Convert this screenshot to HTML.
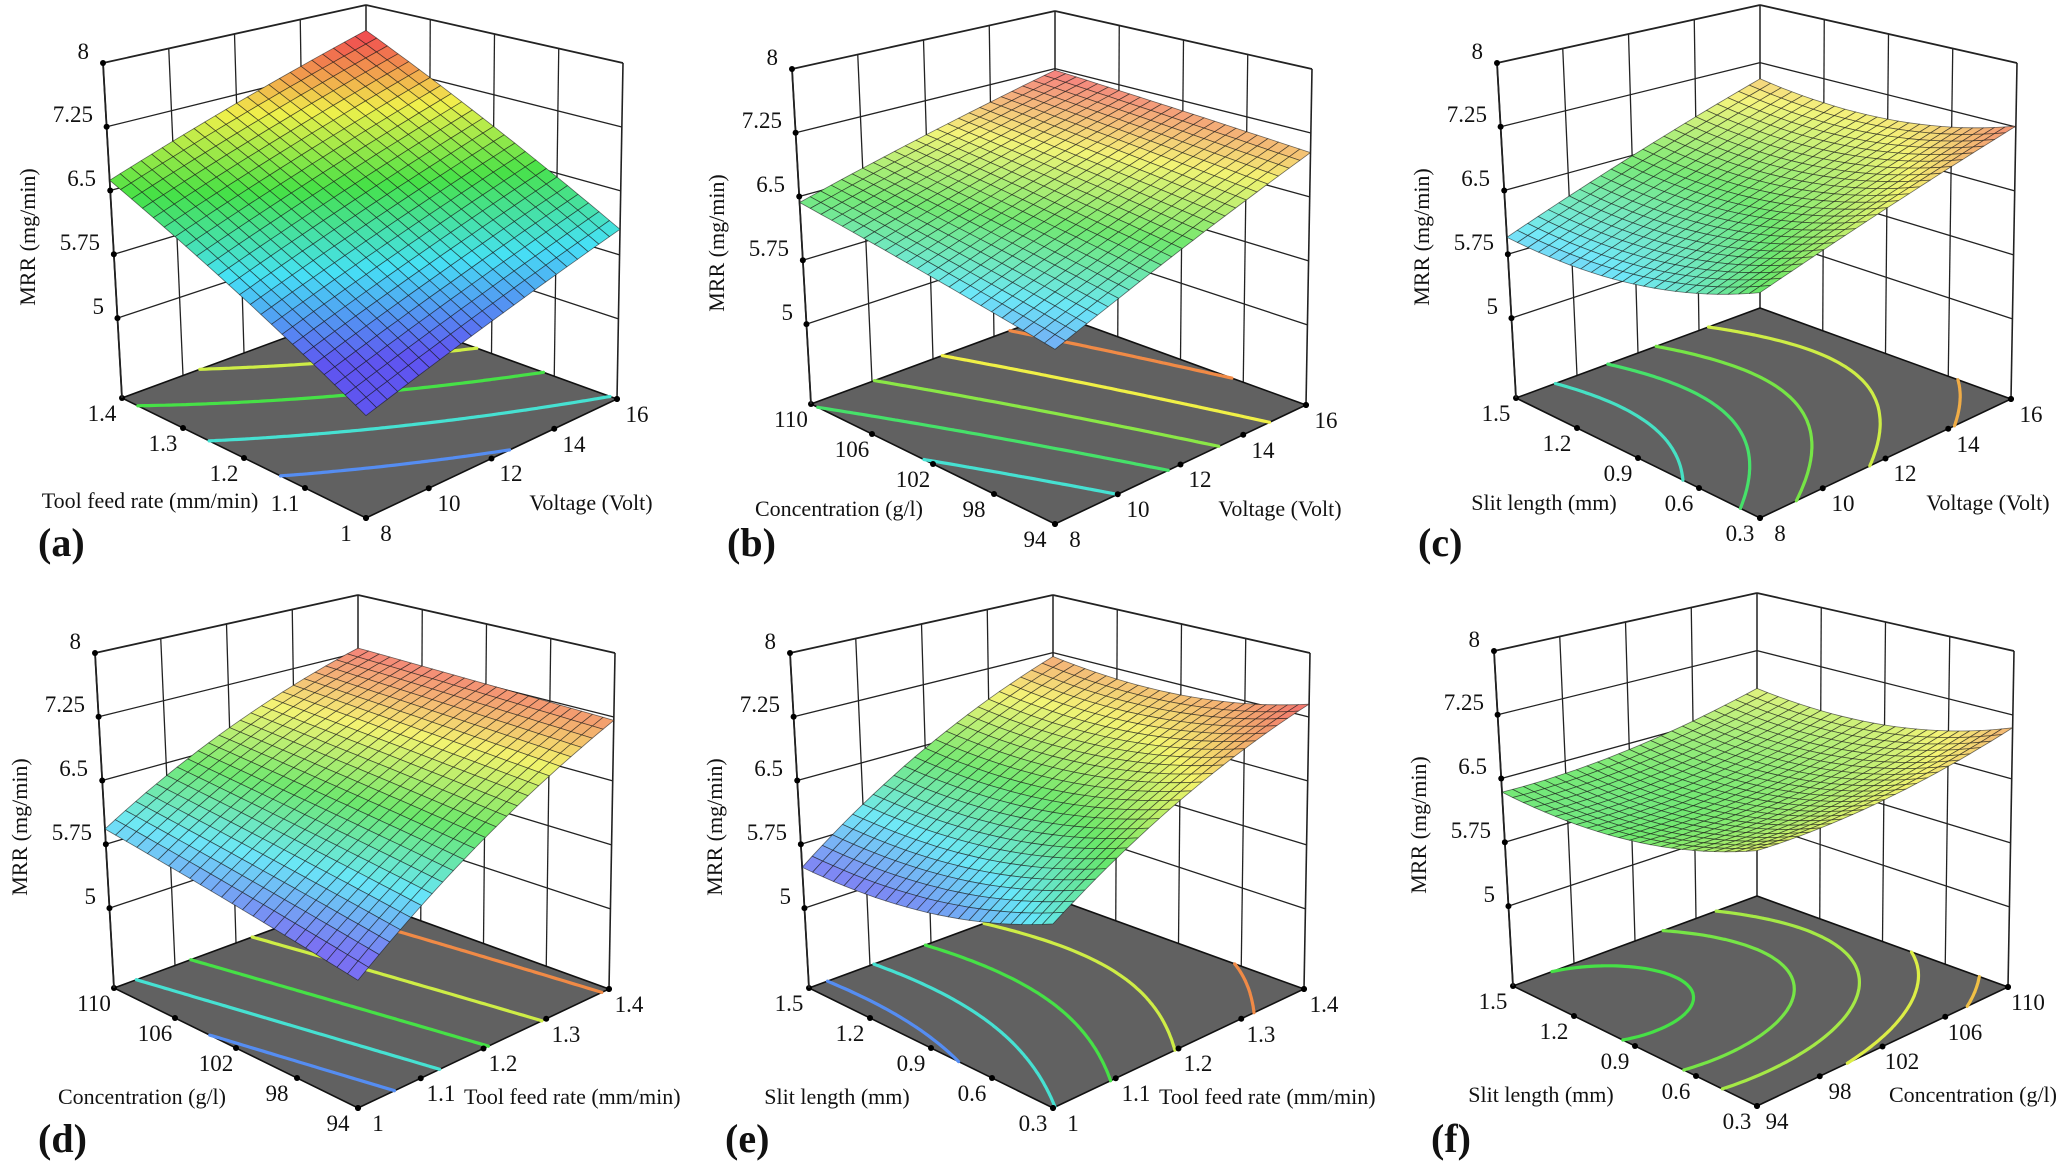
<!DOCTYPE html>
<html><head><meta charset="utf-8"><style>
html,body{margin:0;padding:0;background:#fff}
svg{display:block}
svg text{font-family:"Liberation Serif","Times New Roman","DejaVu Serif",serif !important;fill:#111}
.tk{font-size:23px}
.tl{font-size:22px}
.pl{font-size:40px;font-weight:bold}
</style></head><body>
<svg id="s" xmlns="http://www.w3.org/2000/svg" width="2065" height="1172" viewBox="0 0 2065 1172" font-family="Liberation Serif, Times New Roman, DejaVu Serif, serif">
<rect width="2065" height="1172" fill="#fff"/>
<g id="p0" transform="translate(0,0)"><g class="gfx"></g>
<g class="tk" text-anchor="end"><text x="89" y="59">8</text><text x="93" y="122">7.25</text><text x="96" y="186">6.5</text><text x="100" y="250">5.75</text><text x="104" y="314">5</text></g>
<g class="tk" text-anchor="middle"><text x="102" y="421">1.4</text><text x="163" y="451">1.3</text><text x="224" y="481">1.2</text><text x="285" y="511">1.1</text><text x="346" y="541">1</text>
<text x="386" y="541">8</text><text x="449" y="511">10</text><text x="511" y="481">12</text><text x="574" y="452">14</text><text x="637" y="422">16</text></g>
<text class="tl" x="150" y="508" text-anchor="middle">Tool feed rate (mm/min)</text>
<text class="tl" x="591" y="510" text-anchor="middle">Voltage (Volt)</text>
<text class="tl" transform="translate(35,237) rotate(-90)" text-anchor="middle">MRR (mg/min)</text>
<text class="pl" x="38" y="556">(a)</text></g>

<g id="p1" transform="translate(689,6)"><g class="gfx"></g>
<g class="tk" text-anchor="end"><text x="89" y="59">8</text><text x="93" y="122">7.25</text><text x="96" y="186">6.5</text><text x="100" y="250">5.75</text><text x="104" y="314">5</text></g>
<g class="tk" text-anchor="middle"><text x="102" y="421">110</text><text x="163" y="451">106</text><text x="224" y="481">102</text><text x="285" y="511">98</text><text x="346" y="541">94</text>
<text x="386" y="541">8</text><text x="449" y="511">10</text><text x="511" y="481">12</text><text x="574" y="452">14</text><text x="637" y="422">16</text></g>
<text class="tl" x="150" y="510" text-anchor="middle">Concentration (g/l)</text>
<text class="tl" x="591" y="510" text-anchor="middle">Voltage (Volt)</text>
<text class="tl" transform="translate(35,237) rotate(-90)" text-anchor="middle">MRR (mg/min)</text>
<text class="pl" x="38" y="550">(b)</text></g>

<g id="p2" transform="translate(1394,0)"><g class="gfx"></g>
<g class="tk" text-anchor="end"><text x="89" y="59">8</text><text x="93" y="122">7.25</text><text x="96" y="186">6.5</text><text x="100" y="250">5.75</text><text x="104" y="314">5</text></g>
<g class="tk" text-anchor="middle"><text x="102" y="421">1.5</text><text x="163" y="451">1.2</text><text x="224" y="481">0.9</text><text x="285" y="511">0.6</text><text x="346" y="541">0.3</text>
<text x="386" y="541">8</text><text x="449" y="511">10</text><text x="511" y="481">12</text><text x="574" y="452">14</text><text x="637" y="422">16</text></g>
<text class="tl" x="150" y="510" text-anchor="middle">Slit length (mm)</text>
<text class="tl" x="594" y="510" text-anchor="middle">Voltage (Volt)</text>
<text class="tl" transform="translate(35,237) rotate(-90)" text-anchor="middle">MRR (mg/min)</text>
<text class="pl" x="24" y="556">(c)</text></g>

<g id="p3" transform="translate(-8,590)"><g class="gfx"></g>
<g class="tk" text-anchor="end"><text x="89" y="59">8</text><text x="93" y="122">7.25</text><text x="96" y="186">6.5</text><text x="100" y="250">5.75</text><text x="104" y="314">5</text></g>
<g class="tk" text-anchor="middle"><text x="102" y="421">110</text><text x="163" y="451">106</text><text x="224" y="481">102</text><text x="285" y="511">98</text><text x="346" y="541">94</text>
<text x="386" y="541">1</text><text x="449" y="511">1.1</text><text x="511" y="481">1.2</text><text x="574" y="452">1.3</text><text x="637" y="422">1.4</text></g>
<text class="tl" x="150" y="514" text-anchor="middle">Concentration (g/l)</text>
<text class="tl" x="472" y="514" text-anchor="start">Tool feed rate (mm/min)</text>
<text class="tl" transform="translate(35,237) rotate(-90)" text-anchor="middle">MRR (mg/min)</text>
<text class="pl" x="46" y="562">(d)</text></g>

<g id="p4" transform="translate(687,590)"><g class="gfx"></g>
<g class="tk" text-anchor="end"><text x="89" y="59">8</text><text x="93" y="122">7.25</text><text x="96" y="186">6.5</text><text x="100" y="250">5.75</text><text x="104" y="314">5</text></g>
<g class="tk" text-anchor="middle"><text x="102" y="421">1.5</text><text x="163" y="451">1.2</text><text x="224" y="481">0.9</text><text x="285" y="511">0.6</text><text x="346" y="541">0.3</text>
<text x="386" y="541">1</text><text x="449" y="511">1.1</text><text x="511" y="481">1.2</text><text x="574" y="452">1.3</text><text x="637" y="422">1.4</text></g>
<text class="tl" x="150" y="514" text-anchor="middle">Slit length (mm)</text>
<text class="tl" x="472" y="514" text-anchor="start">Tool feed rate (mm/min)</text>
<text class="tl" transform="translate(35,237) rotate(-90)" text-anchor="middle">MRR (mg/min)</text>
<text class="pl" x="38" y="562">(e)</text></g>

<g id="p5" transform="translate(1391,588)"><g class="gfx"></g>
<g class="tk" text-anchor="end"><text x="89" y="59">8</text><text x="93" y="122">7.25</text><text x="96" y="186">6.5</text><text x="100" y="250">5.75</text><text x="104" y="314">5</text></g>
<g class="tk" text-anchor="middle"><text x="102" y="421">1.5</text><text x="163" y="451">1.2</text><text x="224" y="481">0.9</text><text x="285" y="511">0.6</text><text x="346" y="541">0.3</text>
<text x="386" y="541">94</text><text x="449" y="511">98</text><text x="511" y="481">102</text><text x="574" y="452">106</text><text x="637" y="422">110</text></g>
<text class="tl" x="150" y="514" text-anchor="middle">Slit length (mm)</text>
<text class="tl" x="582" y="514" text-anchor="middle">Concentration (g/l)</text>
<text class="tl" transform="translate(35,237) rotate(-90)" text-anchor="middle">MRR (mg/min)</text>
<text class="pl" x="40" y="564">(f)</text></g>
</svg>
<script>
(function(){
var NS="http://www.w3.org/2000/svg";
var T={F:[366,518],R:[617,399],L:[122,398],B:[366,308],TF:[366,148],TR:[623,63],TL:[103,63],TB:[366,5]};
function bl(a,b,c,d,u,v){return [(1-u)*(1-v)*a[0]+u*(1-v)*b[0]+(1-u)*v*c[0]+u*v*d[0],(1-u)*(1-v)*a[1]+u*(1-v)*b[1]+(1-u)*v*c[1]+u*v*d[1]];}
function P(u,v,w){var f=bl(T.F,T.R,T.L,T.B,u,v),t=bl(T.TF,T.TR,T.TL,T.TB,u,v);return [f[0]*(1-w)+t[0]*w,f[1]*(1-w)+t[1]*w];}
function W(z){return (z-4.06)/3.94;}
var stops=[[0,[95,85,240]],[0.25,[70,225,245]],[0.5,[70,225,70]],[0.75,[240,240,70]],[1,[240,70,70]]];
function cm(t,p){t=Math.max(0,Math.min(1,t));var i=0;while(i<3&&t>stops[i+1][0])i++;var a=stops[i],b=stops[i+1],f=(t-a[0])/(b[0]-a[0]);var c=[0,1,2].map(function(k){var x=a[1][k]+(b[1][k]-a[1][k])*f;return Math.round(x+(255-x)*p);});return "rgb("+c.join(",")+")";}
var PR=[
{zF:5.15,zR:6.05,zL:6.62,zB:7.67,ku:0,kv:0,t0:5.45,t1:7.6,p:0.0,lv:[0.1,0.3,0.5,0.7,0.9]},
{zF:5.92,zR:7.02,zL:6.43,zB:7.23,ku:0,kv:0,t0:5.75,t1:7.23,p:0.25,lv:[0.3,0.45,0.6,0.75,0.9]},
{zF:6.46,zR:7.26,zL:5.95,zB:7.04,ku:0,kv:0.8,t0:5.55,t1:7.35,p:0.25,lv:[0.32,0.45,0.57,0.7,0.85]},
{zF:5.42,zR:7.21,zL:5.93,zB:7.31,ku:-0.4,kv:0,t0:5.55,t1:7.35,p:0.22,lv:[0.1,0.3,0.5,0.7,0.9]},
{zF:6.02,zR:7.40,zL:5.48,zB:7.20,ku:-0.5,kv:0.7,t0:5.45,t1:7.4,p:0.22,lv:[0.1,0.3,0.5,0.7,0.9]},
{zF:6.78,zR:7.10,zL:6.34,zB:6.76,ku:0.5,kv:0.8,t0:5.34,t1:7.34,p:0.25,lv:[0.5,0.57,0.64,0.72,0.82]}];
function el(n,a,par){var e=document.createElementNS(NS,n);for(var k in a)e.setAttribute(k,a[k]);par.appendChild(e);return e;}
function pts(arr){return arr.map(function(p){return p[0].toFixed(1)+","+p[1].toFixed(1);}).join(" ");}
PR.forEach(function(q,idx){
 var g=document.querySelector("#p"+idx+" .gfx");
 function Z(u,v){return q.zF*(1-u)*(1-v)+q.zR*u*(1-v)+q.zL*(1-u)*v+q.zB*u*v+q.ku*(u*u-u)+q.kv*(v*v-v);}
 function tc(z){return (z-q.t0)/(q.t1-q.t0);}
 var zt=[5,5.75,6.5,7.25,8];
 function line(a,b,sw){el("line",{x1:a[0],y1:a[1],x2:b[0],y2:b[1],stroke:"#222","stroke-width":sw||1.3},g);}
 for(var k=0;k<=4;k++){line(P(k/4,1,0),P(k/4,1,1),k==0?1.6:1.3);line(P(1,k/4,0),P(1,k/4,1),k==0?1.6:1.3);}
 zt.forEach(function(z,i){var w=W(z);line(P(0,1,w),P(1,1,w),i==4?1.8:1.3);line(P(1,0,w),P(1,1,w),i==4?1.8:1.3);});
 el("polygon",{points:pts([P(0,0,0),P(1,0,0),P(1,1,0),P(0,1,0)]),fill:"#616161",stroke:"#111","stroke-width":1.6},g);
 var N=60;
 q.lv.forEach(function(tl){var z0=q.t0+tl*(q.t1-q.t0)+1.234e-6;var d="";
  for(var i=0;i<N;i++)for(var j=0;j<N;j++){
   var u0=i/N,u1=(i+1)/N,v0=j/N,v1=(j+1)/N;
   var c=[[u0,v0,Z(u0,v0)],[u1,v0,Z(u1,v0)],[u1,v1,Z(u1,v1)],[u0,v1,Z(u0,v1)]];var cr=[];
   for(var e=0;e<4;e++){var a=c[e],b=c[(e+1)%4];if((a[2]-z0)*(b[2]-z0)<=0&&a[2]!=b[2]){var f=(z0-a[2])/(b[2]-a[2]);cr.push([a[0]+(b[0]-a[0])*f,a[1]+(b[1]-a[1])*f]);}}
   for(var m=0;m+1<cr.length;m+=2){var A=P(cr[m][0],cr[m][1],0),B2=P(cr[m+1][0],cr[m+1][1],0);d+="M"+A[0].toFixed(1)+" "+A[1].toFixed(1)+"L"+B2[0].toFixed(1)+" "+B2[1].toFixed(1);}
  }
  if(d)el("path",{d:d,stroke:cm(tl,0),"stroke-width":3.2,fill:"none","stroke-linecap":"round"},g);
 });
 for(var k=0;k<=4;k++){var a=P(0,k/4,0),b=P(k/4,0,0);el("circle",{cx:a[0],cy:a[1],r:3,fill:"#000"},g);el("circle",{cx:b[0],cy:b[1],r:3,fill:"#000"},g);}
 var rr=P(1,0,0);el("circle",{cx:rr[0],cy:rr[1],r:3,fill:"#000"},g);
 line(P(0,1,0),P(0,1,1),1.8);
 zt.forEach(function(z){var p=P(0,1,W(z));el("circle",{cx:p[0],cy:p[1],r:3,fill:"#000"},g);});
 var M=24,quads=[];
 for(var i=0;i<M;i++)for(var j=0;j<M;j++)quads.push([i,j]);
 quads.sort(function(A,B){return (B[0]+B[1])-(A[0]+A[1]);});
 var sg=el("g",{stroke:"rgba(20,20,20,0.6)","stroke-width":0.8,"stroke-linejoin":"round"},g);
 quads.forEach(function(Q){var i=Q[0],j=Q[1];var cs=[[i,j],[i+1,j],[i+1,j+1],[i,j+1]].map(function(c){var u=c[0]/M,v=c[1]/M;return P(u,v,W(Z(u,v)));});
  var zc=Z((i+.5)/M,(j+.5)/M);
  var shade=0.06*((i+j)/M-1);
  el("polygon",{points:pts(cs),fill:cm(tc(zc),Math.max(0,Math.min(0.6,q.p+shade)))},sg);});
});
})();
</script>
</body></html>
